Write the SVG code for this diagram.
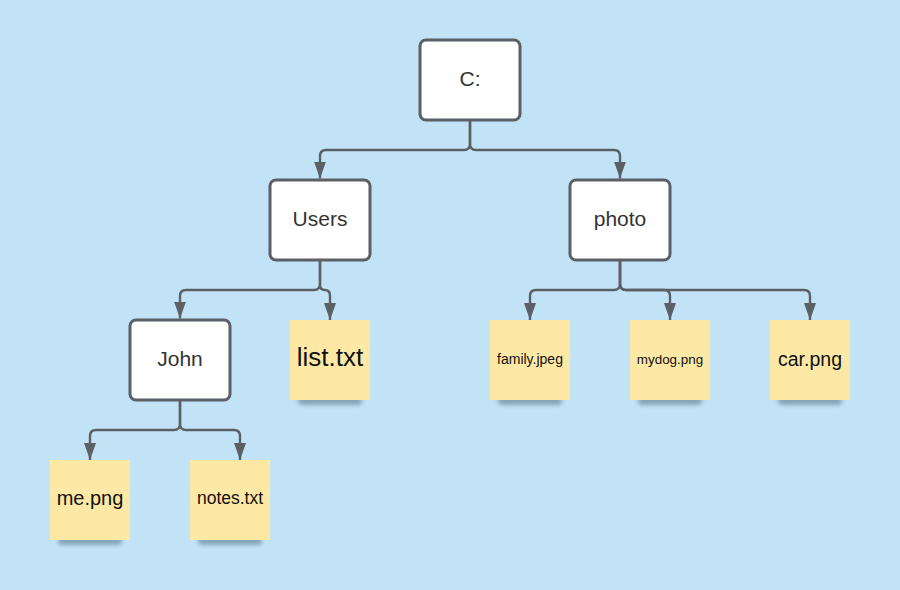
<svg xmlns="http://www.w3.org/2000/svg" width="900" height="590" viewBox="0 0 900 590">
<defs>
<style>
.box{fill:#ffffff;stroke:#5b5f66;stroke-width:3}
.sticky{fill:#fde9a5}
.shadow{fill:#5d7a8a;opacity:0.6;filter:url(#blur)}
.lbl{font-family:"Liberation Sans",Arial,sans-serif;fill:#333333;text-anchor:middle;font-size:21px}
.st{font-family:"Liberation Sans",Arial,sans-serif;fill:#111111;text-anchor:middle}
.conn{fill:none;stroke:#5b5f66;stroke-width:2.4}
</style>
<filter id="blur" x="-20%" y="-100%" width="140%" height="300%"><feGaussianBlur stdDeviation="2.2"/></filter>
<marker id="arr" viewBox="0 0 17 12" refX="17" refY="6" markerWidth="17" markerHeight="12" markerUnits="userSpaceOnUse" orient="auto">
<path d="M0,0 L17,6 L0,12 z" fill="#5b5f66"/>
</marker>
</defs>
<rect width="900" height="590" fill="#c2e3f6"/>
<g id="connectors">
<path class="conn" marker-end="url(#arr)" d="M470,120 V144 Q470,150 464,150 H326 Q320,150 320,156 V178.5"/>
<path class="conn" marker-end="url(#arr)" d="M470,120 V144 Q470,150 476,150 H614 Q620,150 620,156 V178.5"/>
<path class="conn" marker-end="url(#arr)" d="M320,260 V284 Q320,290 314,290 H186 Q180,290 180,296 V318.5"/>
<path class="conn" marker-end="url(#arr)" d="M320,260 V285 Q320,290 325,290 Q330,290 330,296 V320"/>
<path class="conn" marker-end="url(#arr)" d="M180,400 V424 Q180,430 174,430 H96 Q90,430 90,436 V460"/>
<path class="conn" marker-end="url(#arr)" d="M180,400 V424 Q180,430 186,430 H234 Q240,430 240,436 V460"/>
<path class="conn" marker-end="url(#arr)" d="M620,260 V284 Q620,290 614,290 H536 Q530,290 530,296 V320"/>
<path class="conn" marker-end="url(#arr)" d="M620,260 V284 Q620,290 626,290 H664 Q670,290 670,296 V320"/>
<path class="conn" marker-end="url(#arr)" d="M620,260 V284 Q620,290 626,290 H804 Q810,290 810,296 V320"/>
</g>
<g id="node-c">
<rect class="box" x="420" y="40" width="100" height="80" rx="6"/>
<text class="lbl" x="470" y="86">C:</text>
</g>
<g id="node-users">
<rect class="box" x="270" y="180" width="100" height="80" rx="6"/>
<text class="lbl" x="320" y="226">Users</text>
</g>
<g id="node-photo">
<rect class="box" x="570" y="180" width="100" height="80" rx="6"/>
<text class="lbl" x="620" y="226">photo</text>
</g>
<g id="node-john">
<rect class="box" x="130" y="320" width="100" height="80" rx="6"/>
<text class="lbl" x="180" y="366">John</text>
</g>
<g id="node-list">
<rect class="shadow" x="298" y="396" width="64" height="9" rx="4"/>
<rect class="sticky" x="290" y="320" width="80" height="80"/>
<text class="st" x="330" y="366" font-size="26">list.txt</text>
</g>
<g id="node-me">
<rect class="shadow" x="58" y="536" width="64" height="9" rx="4"/>
<rect class="sticky" x="50" y="460" width="80" height="80"/>
<text class="st" x="90" y="505" font-size="20">me.png</text>
</g>
<g id="node-notes">
<rect class="shadow" x="198" y="536" width="64" height="9" rx="4"/>
<rect class="sticky" x="190" y="460" width="80" height="80"/>
<text class="st" x="230" y="504" font-size="17.5">notes.txt</text>
</g>
<g id="node-family">
<rect class="shadow" x="498" y="396" width="64" height="9" rx="4"/>
<rect class="sticky" x="490" y="320" width="80" height="80"/>
<text class="st" x="530" y="364" font-size="14">family.jpeg</text>
</g>
<g id="node-mydog">
<rect class="shadow" x="638" y="396" width="64" height="9" rx="4"/>
<rect class="sticky" x="630" y="320" width="80" height="80"/>
<text class="st" x="670" y="364" font-size="13.4">mydog.png</text>
</g>
<g id="node-car">
<rect class="shadow" x="778" y="396" width="64" height="9" rx="4"/>
<rect class="sticky" x="770" y="320" width="80" height="80"/>
<text class="st" x="810" y="366" font-size="19.5">car.png</text>
</g>
</svg>
